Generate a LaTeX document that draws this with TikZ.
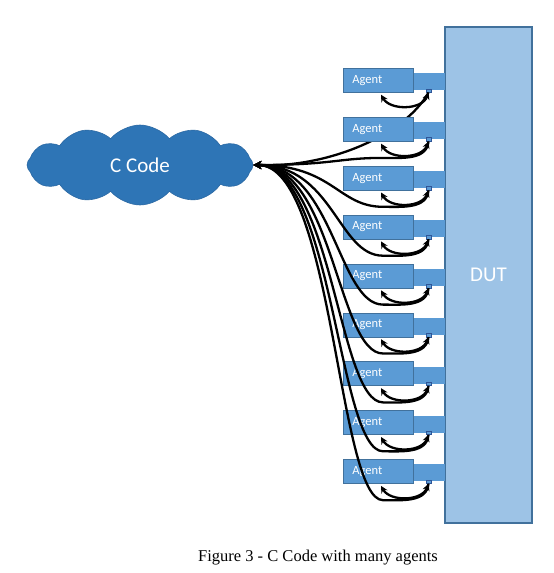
\documentclass[tikz,border=0pt]{standalone}
\usepackage{fontspec}
\setmainfont{Liberation Serif}
\newfontfamily\calib{Carlito}
\usetikzlibrary{shapes.symbols,arrows.meta}
\definecolor{agentblue}{HTML}{5B9BD5}
\definecolor{agentedge}{HTML}{41719C}
\definecolor{portedge}{HTML}{2F5597}
\definecolor{dutfill}{HTML}{9DC3E6}
\definecolor{cloudblue}{HTML}{2E75B6}
\definecolor{cloudedge}{HTML}{2A68A3}
\begin{document}
\begin{tikzpicture}[x=1pt,y=1pt,
  dutbox/.style={draw=agentedge, fill=dutfill, line width=1.2pt, minimum width=87pt, minimum height=496pt, inner sep=0pt, text=white, font=\calib\fontsize{21}{24}\selectfont},
  agentbox/.style={draw=agentedge, fill=agentblue, line width=0.7pt, minimum height=24pt, inner xsep=9pt, inner ysep=0pt, text width=52pt, align=left, anchor=north west, text=white, font=\calib\fontsize{12.5}{14}\selectfont},
  barbox/.style={fill=agentblue, minimum width=32pt, minimum height=17pt, inner sep=0pt, anchor=north west},
  portbox/.style={draw=portedge, fill=agentblue, line width=0.5pt, minimum width=5pt, minimum height=3.5pt, inner sep=0pt},
  cloudnode/.style={cloud, cloud puffs=12, cloud puff arc=100, cloud ignores aspect, draw=cloudedge, fill=cloudblue, line width=0.6pt, minimum width=226pt, minimum height=80pt, inner sep=0pt, text=white, font=\calib\fontsize{21}{24}\selectfont},
  smallarr/.style={line width=2.3pt, {Stealth[length=7pt,width=7pt]}-{Stealth[length=7pt,width=7pt]}},
  longarr/.style={line width=2.3pt, {Stealth[length=8pt,width=8pt]}-},
  captext/.style={font=\fontsize{16.5}{20}\selectfont, inner sep=0pt}
]
\useasboundingbox (0,0) rectangle (554,-573);
\node[dutbox] (dut) at (488.5,-275) {DUT};
\node[cloudnode] (ccode) at (140,-165) {C Code};
\foreach \k in {1,...,9}{
  \pgfmathsetmacro{\ytop}{68+48.9*(\k-1)}
  \pgfmathsetmacro{\yb}{\ytop+41}
  \node[barbox] (bar\k) at (413,-\ytop-5) {};
  \node[agentbox] (agent\k) at (343,-\ytop) {Agent};
  \node[portbox] (port\k) at (428.5,-\ytop-22.5) {};
  \coordinate (tip\k) at ([xshift=38pt,yshift=-2pt]agent\k.south west);
  \draw[smallarr] (tip\k) to[out=-60,in=-110] (port\k.south);
  \ifnum\k=1
    \draw[longarr] (ccode.east) .. controls +(75,-3) and (405,-135) .. (port\k.south);
  \else
    \coordinate (bot\k) at (383,-\yb);
    \draw[longarr] (ccode.east) .. controls +(80,0) and (338,-\yb) .. (bot\k) to[out=0,in=-95] (port\k.south);
  \fi
}
\node[captext] (cap) at (318,-558) {Figure 3 - C Code with many agents};
\end{tikzpicture}
\end{document}
